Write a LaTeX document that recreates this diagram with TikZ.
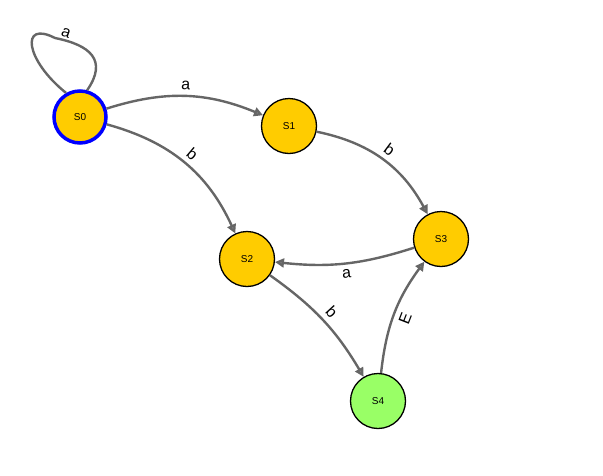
\documentclass[tikz,border=0pt]{standalone}
\usepackage{fontspec}
\setmainfont{Liberation Sans}
\usetikzlibrary{arrows.meta}
\begin{document}
\begin{tikzpicture}[x=1pt,y=-1pt,
  st/.style={circle,draw=black,line width=1.3pt,minimum size=55pt,inner sep=0pt,font=\fontsize{10}{12}\selectfont},
  ed/.style={draw=black!60,line width=2.4pt,-{Triangle[length=9pt,width=9pt,fill=black!50]}},
  lb/.style={font=\fontsize{16}{18}\selectfont,sloped,above,inner sep=5pt}]
\useasboundingbox (0,0) rectangle (603,475);
\node[st,fill={rgb,255:red,255;green,204;blue,0},draw={rgb,255:red,0;green,0;blue,255},line width=3.5pt,minimum size=52pt] (s0) at (80,117) {S0};
\node[st,fill={rgb,255:red,255;green,204;blue,0}] (s1) at (289,126) {S1};
\node[st,fill={rgb,255:red,255;green,204;blue,0}] (s3) at (441,239) {S3};
\node[st,fill={rgb,255:red,255;green,204;blue,0}] (s2) at (247,259) {S2};
\node[st,fill={rgb,255:red,153;green,255;blue,102}] (s4) at (378,401) {S4};
\draw[draw=black!60,line width=2.4pt] (s0.120) .. controls (25,60) and (20,20) .. (55,38) node[pos=1,font=\fontsize{16}{18}\selectfont,rotate=-20,above right,inner sep=3pt] {a} .. controls (90,45) and (108,60) .. (s0.75);
\draw[ed] (s0) to[bend left=20] node[lb] {a} (s1);
\draw[ed] (s0) to[bend left=25] node[lb] {b} (s2);
\draw[ed] (s1) to[bend left=25] node[lb] {b} (s3);
\draw[ed] (s3) to[bend left=12] node[lb,below] {a} (s2);
\draw[ed] (s2) to[bend left=12] node[lb] {b} (s4);
\draw[ed] (s4) to[bend left=15] node[lb,below] {E} (s3);
\end{tikzpicture}
\end{document}
